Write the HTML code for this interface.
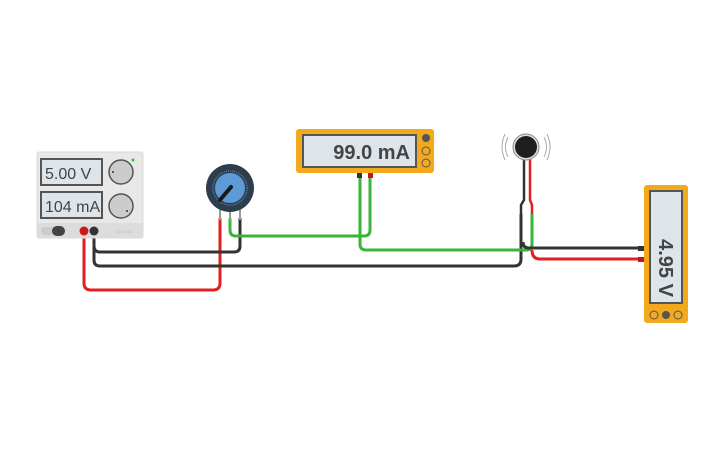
<!DOCTYPE html>
<html><head><meta charset="utf-8"><style>
html,body{margin:0;padding:0;background:#fff;}
svg{display:block;font-family:"Liberation Sans",Arial,sans-serif;}
</style></head><body>
<svg width="725" height="453" viewBox="0 0 725 453" xmlns="http://www.w3.org/2000/svg">
<g fill="none" stroke-width="3" stroke-linejoin="round">
<path d="M84 232 V283 Q84 290 91 290 H213 Q220 290 220 283 V218" stroke="#e02020"/>
<path d="M94 232 V246 Q94 252 100 252 H234 Q240 252 240 246 V218" stroke="#333"/>
<path d="M94 232 V260 Q94 266 100 266 H514 Q521 266 521 259 V214" stroke="#333"/>
<path d="M230 218 V230 Q230 236 236 236 H364 Q370 236 370 230 V176" stroke="#3ab53a"/>
<path d="M360 176 V244 Q360 250 366 250 H526 Q532 250 532 244 V214" stroke="#3ab53a"/>
<path d="M523 242 Q523 248 529 248 H640" stroke="#333"/>
<path d="M532 250 Q532 259 540 259 H640" stroke="#e02020"/>
<path d="M524 158 V200 L521 205 V214" stroke="#333" stroke-width="2.5"/>
<path d="M530 158 V200 L532 205 V214" stroke="#e02020" stroke-width="2.5"/>
</g>
<rect x="638" y="246" width="6" height="5" fill="#333"/>
<rect x="638" y="257" width="6" height="5" fill="#c01818"/>
<rect x="37" y="152" width="106" height="86" rx="2" fill="#e8e8e8" stroke="#d8d8d8"/>
<rect x="37" y="223" width="106" height="15" fill="#dcdcdc"/>
<rect x="40" y="158" width="63" height="28" fill="#555"/>
<rect x="42" y="160" width="59" height="24" fill="#dde5ea"/>
<text x="45" y="179" font-size="16" fill="#444">5.00 V</text>
<rect x="40" y="191" width="63" height="28" fill="#555"/>
<rect x="42" y="193" width="59" height="24" fill="#dde5ea"/>
<text x="45" y="212" font-size="16" fill="#444">104 mA</text>
<circle cx="121" cy="172" r="12" fill="#ccc" stroke="#555" stroke-width="1.5"/>
<circle cx="113" cy="172" r="1" fill="#333"/>
<circle cx="121" cy="206" r="12" fill="#ccc" stroke="#555" stroke-width="1.5"/>
<circle cx="127" cy="211" r="1" fill="#333"/>
<circle cx="133" cy="160" r="1.5" fill="#2c2"/>
<rect x="41" y="227" width="24" height="8" rx="4" fill="#ccc"/>
<rect x="52" y="226" width="13" height="10" rx="5" fill="#444"/>
<circle cx="84" cy="231" r="4.5" fill="#d01818"/>
<circle cx="94" cy="231" r="4.5" fill="#333"/>
<text x="115" y="233" font-size="4" fill="#bbb">VOLTAGE</text>
<rect x="219" y="208" width="2" height="12" fill="#999"/>
<rect x="229" y="208" width="2" height="12" fill="#999"/>
<rect x="239" y="208" width="2" height="12" fill="#999"/>
<circle cx="230" cy="188" r="24" fill="#2c3e4e"/>
<circle cx="230" cy="188" r="17" fill="#2c3e4e" stroke="#5a7a95" stroke-width="1.5" stroke-dasharray="1 1"/>
<circle cx="230" cy="188" r="15" fill="#5c9bd6"/>
<path d="M231 187 L220 200" stroke="#1a1a1a" stroke-width="4" stroke-linecap="round"/>
<rect x="296" y="129" width="138" height="44" rx="3" fill="#f2a91c"/>
<rect x="302" y="134" width="115" height="34" fill="#555"/>
<rect x="304" y="136" width="111" height="30" fill="#dde5ea"/>
<text x="410" y="159" font-size="20" font-weight="bold" fill="#444" text-anchor="end">99.0 mA</text>
<circle cx="426" cy="138" r="4" fill="#555"/>
<circle cx="426" cy="151" r="4" fill="none" stroke="#555" stroke-width="1"/>
<circle cx="426" cy="163" r="4" fill="none" stroke="#555" stroke-width="1"/>
<rect x="357" y="173" width="5" height="5" fill="#333"/>
<rect x="368" y="173" width="5" height="5" fill="#c01818"/>
<circle cx="526" cy="147" r="13" fill="#ddd" stroke="#888"/>
<circle cx="526" cy="147" r="11" fill="#1e1e1e"/>
<g fill="none" stroke="#aaa" stroke-width="1">
<path d="M508 137 Q503 147 508 157"/><path d="M505 134 Q499 147 505 160"/>
<path d="M544 137 Q549 147 544 157"/><path d="M547 134 Q553 147 547 160"/>
</g>
<rect x="644" y="185" width="44" height="138" rx="3" fill="#f2a91c"/>
<rect x="649" y="190" width="34" height="114" fill="#555"/>
<rect x="651" y="192" width="30" height="110" fill="#dde5ea"/>
<text x="0" y="0" font-size="20" font-weight="bold" fill="#444" text-anchor="middle" transform="translate(659 268) rotate(90)">4.95 V</text>
<circle cx="654" cy="315" r="4" fill="none" stroke="#555"/>
<circle cx="666" cy="315" r="4" fill="#555"/>
<circle cx="678" cy="315" r="4" fill="none" stroke="#555"/>
</svg>
</body></html>
